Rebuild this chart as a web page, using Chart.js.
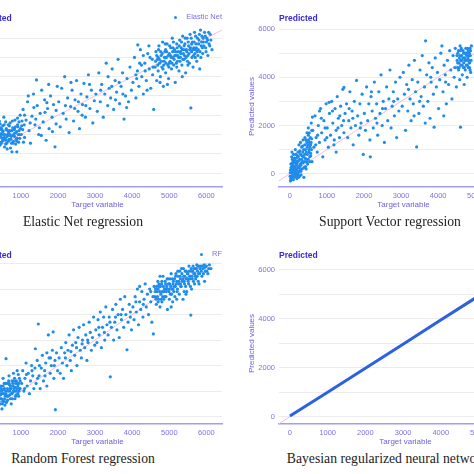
<!DOCTYPE html>
<html>
<head>
<meta charset="utf-8">
<script src="https://cdn.jsdelivr.net/npm/chart.js@4.4.1/dist/chart.umd.min.js"></script>
<style>
  html, body { margin: 0; padding: 0; overflow: hidden; background: #fff; }
  body { position: relative; width: 474px; height: 474px; }
  .panel { position: absolute; width: 295px; height: 212px; }
  .panel canvas { position: absolute; left: 0; top: 0; }
  .pred { position: absolute; left: 42px; top: 13px; font: bold 8.5px 'Liberation Sans', Arial, sans-serif; color: #3a2bd6; white-space: nowrap; }
  .leg { position: absolute; right: 4px; top: 12px; font: 7.5px 'Liberation Sans', Arial, sans-serif; color: #7b70e8; white-space: nowrap; }
  .leg i { display: inline-block; width: 3px; height: 3px; border-radius: 50%; background: #1f8ceb; margin-right: 9px; vertical-align: middle; }
  .cap { position: absolute; width: 300px; text-align: center; font: 13.7px 'Liberation Serif', 'Times New Roman', serif; color: #222; line-height: 16px; white-space: nowrap; }
</style>
</head>
<body>
<div class="panel" style="left:-69px;top:0">
  <canvas id="c1" width="295" height="212"></canvas>
  <div class="pred">Predicted</div>
  <div class="leg"><i></i>Elastic Net</div>
</div>
<div class="panel" style="left:237px;top:0">
  <canvas id="c2" width="295" height="212"></canvas>
  <div class="pred">Predicted</div>
</div>
<div class="panel" style="left:-69px;top:237px">
  <canvas id="c3" width="295" height="212"></canvas>
  <div class="pred">Predicted</div>
  <div class="leg"><i></i>RF</div>
</div>
<div class="panel" style="left:237px;top:237px">
  <canvas id="c4" width="295" height="212"></canvas>
  <div class="pred">Predicted</div>
</div>
<div class="cap" style="left:-67px;top:214px">Elastic Net regression</div>
<div class="cap" style="left:240px;top:214px">Support Vector regression</div>
<div class="cap" style="left:-67px;top:451px">Random Forest regression</div>
<div class="cap" style="left:240px;top:451px">Bayesian regularized neural networks</div>

<script>
// x ticks shared by all panels
const xTicks = [0, 1000, 2000, 3000, 4000, 5000, 6000];
const yTickLabels = [0, 2000, 4000, 6000];

// [target, predicted]
const elasticNetPoints = [
  [60,700],[90,1250],[130,450],[160,950],[190,1600],[220,600],[250,1100],[280,300],[310,850],[340,1400],[370,700],[400,1050],[420,1700],[440,450],[460,900],[480,1300],[500,650],[520,1150],[540,1900],[560,350],[580,800],[600,1250],[620,550],[640,1000],[660,1500],[680,750],[700,1200],[720,300],[740,900],[760,100],[780,1350],[800,650],[820,1050],[840,1750],[860,500],[880,1150],[890,100],[900,800],[920,1400],[940,600],[960,1000],[980,2000],[430,1250],[470,550],[510,1450],[550,850],[590,1650],[630,250],[670,1100],[710,1600],[750,550],[790,950],[830,1300],[870,750],[910,1850],[950,1200],[440,1550],[600,700],[700,950],[520,1000],
  [410,950],[430,600],[450,1350],[470,1050],[490,800],[510,1200],[530,700],[550,1500],[570,1000],[590,500],[610,1300],[630,900],[650,1200],[670,650],[690,1450],[710,1000],[730,750],[750,1200],[770,1700],[790,550],[810,1250],[830,900],[850,1400],[870,1100],[890,650],[910,1500],[930,1000],[950,1650],[970,800],[990,1300],[1010,1000],[1030,1700],[1050,1250],[1070,600],[1090,1500],
  [1020,1450],[1060,2300],[1100,850],[1140,1750],[1180,2700],[1220,1200],[1260,550],[1300,1950],[1340,3100],[1380,1500],[1420,3830],[1440,2500],[1480,1000],[1520,2100],[1560,3300],[1600,1650],[1640,2800],[1680,700],[1720,2350],[1760,1300],[1800,3000],[1840,1900],[1880,2550],[1920,360],[1950,1550],[1980,3500],[1100,2000],[1250,1600],[1350,2400],[1500,1350],[1650,2150],[1750,3600],[1850,1150],[1950,2250],[1200,3000],[1550,950],[1700,2650],[1400,1800],
  [2020,2700],[2060,1400],[2100,3400],[2140,2100],[2180,4000],[2220,1800],[2260,2900],[2300,1100],[2340,2450],[2380,3300],[2420,1700],[2460,2800],[2500,3800],[2540,2200],[2580,1300],[2620,3100],[2660,2550],[2700,3650],[2740,1900],[2780,2950],[2820,4100],[2860,2350],[2900,3300],[2940,1600],[2980,2750],[2200,2500],[2450,2350],[2650,2000],[2850,3600],[2550,2700],[2350,3700],[2750,2500],
  [3020,3100],[3060,2200],[3100,4200],[3140,2700],[3180,3600],[3220,1900],[3260,3100],[3300,4700],[3340,2500],[3380,3400],[3420,2900],[3460,4400],[3500,2300],[3540,3800],[3580,3200],[3620,4900],[3660,2600],[3700,3500],[3740,4200],[3780,1800],[3820,3000],[3860,3900],[3900,2700],[3940,4500],[3980,3300],[3150,3300],[3450,3500],[3650,3700],[3850,2400],[3350,4000],[3550,2800],[3750,3100],
  [4020,3700],[4060,5000],[4100,2900],[4140,4300],[4180,3500],[4220,5400],[4260,4000],[4300,3100],[4340,4700],[4380,3800],[4420,5200],[4460,4400],[4500,3400],[4540,4900],[4580,2300],[4100,4100],[4250,4600],[4400,3300],[4550,4100],[4150,5650],[4450,5600],[4560,4500],[4480,5000],[4350,4300],[4300,5100],[4200,4700],[4120,3900],
  [4620,4500],[4640,5300],[4660,3800],[4680,4900],[4700,4300],[4720,5600],[4740,4700],[4760,4000],[4780,5100],[4800,4500],[4820,5800],[4840,3500],[4860,4800],[4880,5300],[4900,4200],[4920,5000],[4940,5700],[4960,4600],[4980,3900],[5000,5200],[5020,4800],[5040,5500],[5060,4400],[5080,6000],[5100,5000],[5120,4600],[5140,5400],[5160,3700],[5180,5100],[5200,5700],[5220,4800],[5240,5300],[5260,4300],[5280,5900],[5300,5000],[5320,5500],[5340,4600],[5360,6100],[5380,5200],[5400,4900],[5420,5700],[5440,4200],[5460,5400],[5480,6000],[5500,5100],[5520,5600],[5540,4700],[5560,6200],[5580,2380],[5600,5300],[5620,5800],[5640,4500],[5660,5500],[5680,6300],[5700,5000],[5720,5700],[5740,4800],[5760,6000],[5780,5400],[5800,5900],[5820,4400],[5840,6420],[5860,5600],[5880,6100],[5900,5200],[5920,5800],[5950,6300],[5980,5500],[6010,6000],[6040,5100],[6070,5700],[6100,6200],[6150,5400],[4700,5000],[4850,4600],[5050,5000],[5150,5100],[5250,5000],[5350,5400],[5450,5000],[5550,5400],[5650,5100],[5750,5300],[4900,5400],[5000,4700],[5100,5500],[5200,4500],[5300,5300],[5400,5600],[5500,4600],[5600,5700],[5700,5400],[4750,3700],[4950,3600],[5350,4000],[5850,5000],[6000,5800],
  [4630,4800],[4660,5100],[4690,4600],[4710,5400],[4730,4900],[4770,5300],[4790,4800],[4810,5200],[4830,4400],[4870,5000],[4890,5700],[4910,4700],[4930,5300],[4970,5100],[4990,4500],[5010,5600],[5030,5100],[5070,4700],[5090,5300],[5110,5800],[5130,4900],[5170,5300],[5190,4700],[5210,5500],[5230,5100],[5270,5600],[5290,4800],[5310,5200],[5330,5800],[5370,4900],[5390,5400],[5410,5100],[5430,6000],[5470,5300],[5490,4800],[5510,5800],[5530,5200],[5570,5500],[5590,6000],[5610,5000],[5630,5400],[5670,5800],[5690,5200],[5710,6100],[5730,5500],[5770,5100],[5790,5700],[5810,6200],[5830,5300],[5870,5800],[5890,5500],[5910,6000],[5930,5600],[5970,6100],[5990,5300],[6030,5900],[6060,6300],[6090,5600],[6120,5900]
];

const svrPoints = [
  [10,-100],[20,150],[30,400],[40,-250],[50,50],[60,300],[70,600],[80,-50],[90,200],[100,800],[110,100],[120,-150],[130,450],[140,250],[150,1000],[160,0],[170,350],[180,650],[190,-200],[200,150],[210,500],[220,900],[230,50],[240,300],[250,1200],[260,-100],[270,600],[280,400],[290,800],[300,100],[320,1100],[340,500],[360,1400],[380,250],[400,800],[420,1000],[440,600],[460,1300],[480,400],[500,1600],[520,900],[540,700],[560,1200],[580,2100],[600,500],[20,-300],[50,700],[80,350],[110,-50],[140,550],[170,100],[200,-100],[230,700],[260,250],[290,1300],[320,600],[350,900],[380,-150],[410,1500],[440,200],[470,1100],[500,1900],[530,1300],[560,850],[590,1450],[45,250],[75,-150],[105,500],[135,50],[165,800],[195,400],[225,-50],[255,900],[285,150],[315,450],
  [15,50],[25,-200],[35,250],[55,-100],[65,450],[85,100],[95,-250],[115,300],[125,650],[145,-100],[155,200],[175,500],[185,0],[205,750],[215,250],[235,-150],[245,550],[265,100],[275,950],[295,350],[305,-50],[325,750],[335,200],[345,1150],[355,450],[365,700],[375,1000],[390,500],[405,1200],[415,650],[425,300],[435,1400],[445,900],[455,500],[465,1700],[475,800],[485,1200],[495,600],[505,1400],[515,1000],[525,1700],[535,500],[545,1100],[555,1500],[565,750],[575,1300],[585,1000],[595,1800],[60,900],[90,550],
  [620,1800],[650,1100],[680,2400],[710,1500],[740,900],[770,2000],[800,1300],[830,2700],[860,1700],[890,700],[920,2200],[950,1400],[980,2900],[1010,1900],[1040,1100],[1070,2500],[1100,1600],[1130,3000],[1160,2100],[1190,1200],[1220,2700],[1250,1800],[1280,3200],[1310,2300],[1340,1500],[1370,2800],[1400,2000],[1430,3500],[1460,1700],[1490,2500],[700,1200],[850,2300],[1000,1500],[1150,2600],[1300,1900],[1450,2200],[750,1600],[950,1900],[1200,1400],[1350,2400],[1060,2960],[1460,3580],[800,2600],[1250,900],[610,2350],
  [1530,2900],[1560,1500],[1590,2200],[1620,3400],[1650,1900],[1680,2600],[1710,1200],[1740,3000],[1770,2000],[1800,3870],[1830,2400],[1860,1600],[1890,2900],[1920,2100],[1950,3300],[1980,800],[2010,2500],[2040,1800],[2070,3600],[2100,2200],[2130,2900],[2160,1400],[2170,700],[2190,3200],[2220,2600],[2250,1900],[2280,3800],[2310,2300],[2340,2900],[2370,1600],[2400,3400],[2430,2500],[2460,4100],[2490,2000],[2520,3000],[2550,1300],[2580,2700],[2610,3600],[2640,2200],[2670,3100],[2700,4300],[2730,1900],[2760,2800],[2790,3400],[2820,2400],[2850,3800],[2880,1500],[2910,3100],[2940,2600],[2970,4000],[1600,2700],[1900,1900],[2200,3400],[2500,2700],[2800,3000],[1700,2300],[2350,2100],
  [3030,2800],[3060,4200],[3090,3300],[3120,1800],[3150,3700],[3180,2600],[3210,4500],[3240,3100],[3270,2200],[3300,3900],[3330,2900],[3360,4700],[3390,3400],[3420,1110],[3450,3800],[3480,2500],[3510,4300],[3540,3200],[3570,4900],[3600,2800],[3630,3600],[3660,5510],[3690,4100],[3720,3000],[3750,4600],[3780,2300],[3810,3800],[3840,4400],[3870,3300],[3890,1930],[3920,4800],[3950,3600],[3980,4200],[4010,2700],[4040,3900],[4070,5000],[4100,5300],[4130,3400],[4160,4500],[4190,4100],[4220,2900],[4250,4700],[4280,3700],[4310,5100],[4340,4300],[4370,3100],[4400,4900],[4430,4000],[4460,5200],[4490,3600],[3200,3500],[3500,3000],[3800,4000],[4200,3800],[4450,4400],[3350,2400],[3650,2100],[4150,2400],
  [4510,4700],[4530,5000],[4550,4300],[4570,4800],[4590,5300],[4600,1930],[4610,4500],[4630,4900],[4650,4100],[4670,5100],[4690,4600],[4710,4800],[4730,4300],[4750,5000],[4770,4700],[4790,5200],[4810,4400],[4830,4900],[4850,4600],[4870,5100],[4520,4400],[4560,4600],[4600,5100],[4640,4700],[4680,4400],[4720,5000],[4760,4500],[4800,4800],[4840,5000],[4860,4300],[4580,3900],[4700,3700],[4780,4000],[5000,4800],[5200,5000],[5400,4700],[5600,5100],[5800,4900],[6000,5200],[5100,4500],[5300,4900],[5500,5300],[5700,4600],[5900,5000],[6100,4800],
  [4505,4900],[4525,4600],[4545,5100],[4565,4400],[4585,4900],[4605,4700],[4625,5200],[4645,4500],[4665,4800],[4685,5000],[4705,4400],[4725,4700],[4745,5200],[4765,4900],[4785,4500],[4805,5100],[4825,4700],[4845,4400],[4865,4900],[4885,4700],[4895,5300],[4875,4200],[4855,5200],[4835,4600],[4815,5000]
];

const randomForestPoints = [
  [50,600],[100,900],[150,400],[200,1100],[250,700],[300,500],[350,1300],[400,800],[420,1000],[440,500],[460,1200],[480,700],[500,900],[520,1500],[540,600],[560,1100],[580,800],[600,2270],[620,1300],[640,650],[660,1000],[680,1600],[700,850],[720,1200],[740,500],[760,1400],[780,950],[800,1700],[820,1100],[840,700],[860,1300],[880,1000],[900,1800],[920,1200],[940,800],[960,1500],[980,1100],[430,700],[470,1100],[510,600],[550,1300],[590,1000],[630,800],[670,1400],[710,1100],[750,900],[790,1200],[830,1500],[870,850],[910,1300],[950,1000],[450,850],[530,1050],[610,550],[690,1250],[770,700],[850,1150],[930,1650],[490,300],[570,450],
  [410,600],[420,1200],[440,900],[460,700],[480,1000],[500,500],[520,1200],[540,900],[560,700],[580,1300],[600,900],[620,600],[640,1100],[660,800],[680,1300],[700,1000],[720,700],[740,1100],[760,900],[780,1300],[800,1000],[820,1400],[840,1000],[860,800],[880,1400],[900,1100],[920,900],[940,1300],[960,1100],[980,1400],
  [1020,1300],[1050,1800],[1080,1000],[1110,1500],[1140,2100],[1170,1200],[1200,1700],[1230,900],[1260,1400],[1290,2000],[1320,1600],[1350,1100],[1380,1900],[1390,2660],[1410,1300],[1440,2200],[1470,3630],[1490,1600],[1520,1100],[1550,1900],[1580,2400],[1610,1400],[1640,1800],[1670,2100],[1700,1200],[1740,3200],[1760,2300],[1790,1700],[1820,2000],[1850,2600],[1870,3320],[1890,1500],[1920,2200],[1930,270],[1960,2500],[1990,1800],[1100,1100],[1300,1800],[1500,2000],[1700,2500],[1900,2000],[1150,1650],[1450,1500],[1650,1600],[1800,2300],
  [2030,2300],[2060,1700],[2090,2700],[2120,2100],[2150,1500],[2180,2500],[2210,2900],[2240,2000],[2270,2600],[2300,3200],[2330,2200],[2360,1800],[2390,2800],[2420,3400],[2450,2400],[2480,2900],[2510,2000],[2540,3100],[2570,3500],[2600,2600],[2630,2300],[2660,3000],[2690,3600],[2720,2700],[2750,3200],[2780,2200],[2810,2900],[2840,3700],[2870,3300],[2900,2600],[2930,3100],[2960,3900],[2990,2800],[2200,2300],[2500,2700],[2800,3000],[2350,2550],[2650,2850],
  [3020,3400],[3050,2900],[3080,3800],[3110,3200],[3140,4100],[3170,2700],[3200,3500],[3230,3900],[3260,3000],[3290,4300],[3320,3600],[3350,3200],[3380,3900],[3410,1560],[3440,3500],[3470,4200],[3500,3000],[3530,3700],[3560,4400],[3590,3400],[3620,4000],[3650,3100],[3680,4600],[3710,3800],[3740,4200],[3770,3500],[3800,4700],[3830,4000],[3860,2620],[3890,3700],[3920,4400],[3950,4100],[3980,3400],[3100,3500],[3400,3700],[3700,4000],[3950,3900],[3250,3300],[3550,3900],
  [4020,4300],[4050,3800],[4080,4700],[4110,4100],[4140,5000],[4170,3600],[4200,4500],[4230,4200],[4260,4900],[4290,3900],[4320,4600],[4350,5200],[4380,4300],[4410,4800],[4440,4000],[4470,5000],[4500,4500],[4530,3700],[4560,4700],[4570,3240],[4590,5100],[4100,4500],[4300,4400],[4500,4900],[4200,5100],
  [4610,4700],[4630,5000],[4650,4400],[4670,4900],[4690,5300],[4710,4600],[4730,5100],[4750,4300],[4770,4800],[4790,5200],[4810,4900],[4830,5500],[4850,4600],[4870,5000],[4890,5300],[4910,4700],[4930,5100],[4950,4200],[4970,5400],[4990,4900],[5010,5200],[5030,4800],[5050,5600],[5070,5000],[5090,4500],[5110,5300],[5130,5100],[5150,4700],[5170,5500],[5190,5200],[5210,4900],[5230,5700],[5250,5300],[5270,4800],[5290,5500],[5310,5100],[5330,5800],[5350,5300],[5370,4600],[5390,5500],[5410,5200],[5430,5700],[5450,5400],[5470,4900],[5490,5600],[5510,5300],[5530,5900],[5550,5500],[5570,5100],[5580,3980],[5600,5700],[5620,5400],[5640,5900],[5660,5600],[5680,5200],[5700,5800],[5720,5500],[5740,5950],[5760,5700],[5780,5300],[5800,5900],[5820,5600],[5850,5900],[5880,5500],[5910,5800],[5940,5950],[5970,5700],[6000,5900],[6040,5600],[6080,5950],[6120,5800],[4700,5000],[4900,5000],[5100,5000],[5300,5200],[5500,5400],[5700,5500],[4800,4500],[5000,4600],[5200,4600],[5400,4900],[5600,5000],[4750,5500],[5050,4300],[5450,4800],[5800,5200],[5950,5300],
  [4620,4900],[4640,4600],[4660,5100],[4680,4700],[4700,4500],[4720,5200],[4740,4900],[4760,5100],[4780,4600],[4800,5300],[4820,4700],[4840,5100],[4860,4900],[4880,4700],[4900,5200],[4920,4900],[4940,5400],[4960,5000],[4980,5200],[5000,5000],[5020,5400],[5040,5100],[5060,4800],[5080,5400],[5100,5200],[5120,4900],[5140,5400],[5160,5100],[5180,5600],[5200,5300],[5220,5000],[5240,5500],[5260,5200],[5280,5700],[5300,5400],[5320,5100],[5340,5600],[5360,5400],[5380,5800],[5400,5300],[5420,5500],[5440,5100],[5460,5700],[5480,5400],[5500,5600],[5520,5200],[5540,5700],[5560,5400],[5590,5800],[5610,5500],[5630,5700],[5650,5300],[5670,5800],[5690,5600],[5710,5400],[5730,5800],[5750,5500],[5770,5900],[5790,5600],[5830,5800],[5860,5700],[5890,5900],[5920,5600],[5960,5850],[6010,5700],[6060,5800]
];

// Bayesian regularized NN: predictions fall on one straight line
const brnnTarget = [0, 1000, 2000, 3000, 4000, 5000, 6200];
const brnnPredicted = [30, 1000, 1980, 2960, 3950, 4930, 6100];

const diagonal = [-2000, 8000];

Chart.defaults.font.family = "'Liberation Sans', Arial, sans-serif";

function makeChart(id, datasets, yMin, yMax) {
  new Chart(document.getElementById(id), {
    type: 'scatter',
    data: { datasets: datasets },
    options: {
      responsive: false,
      animation: false,
      events: [],
      layout: { padding: { top: 26, left: 0, right: 0, bottom: 0 } },
      plugins: { legend: { display: false }, tooltip: { enabled: false } },
      scales: {
        x: {
          type: 'linear', min: -290, max: 6420,
          grid: { display: false, drawTicks: false },
          border: { display: true, color: '#a39cf0', width: 1.5 },
          ticks: {
            padding: 4, autoSkip: false, maxRotation: 0,
            color: '#7d72e6', font: { size: 7.5 },
            callback: v => String(v)
          },
          afterBuildTicks: s => { s.ticks = xTicks.map(v => ({ value: v })); },
          afterFit: s => { s.height = 25; },
          title: { display: true, text: 'Target variable', color: '#6c60e4', font: { size: 8 }, padding: { top: 0, bottom: 2 } }
        },
        y: {
          type: 'linear', min: yMin, max: yMax,
          grid: { color: '#ececec', lineWidth: 1, drawTicks: false },
          border: { display: false },
          ticks: {
            padding: 4, autoSkip: false,
            color: '#7d72e6', font: { size: 7.5 },
            callback: v => yTickLabels.includes(v) ? String(v) : ''
          },
          afterBuildTicks: s => {
            const t = [];
            for (let v = Math.ceil(yMin / 1000) * 1000; v <= yMax; v += 1000) t.push({ value: v });
            s.ticks = t;
          },
          afterFit: s => { s.width = 42; },
          title: { display: true, text: 'Predicted values', color: '#6c60e4', font: { size: 8 }, padding: { top: 10, bottom: 0 } }
        }
      }
    }
  });
}

function diagSet() {
  return {
    data: diagonal.map(v => ({ x: v, y: v })),
    showLine: true, borderColor: '#f3bddc', borderWidth: 1, pointRadius: 0, order: 2
  };
}

function pointSet(points) {
  return {
    data: points.map(p => ({ x: p[0], y: p[1] })),
    backgroundColor: '#1f8ceb', borderWidth: 0, pointRadius: 1.6, order: 1
  };
}

makeChart('c1', [pointSet(elasticNetPoints), diagSet()], -1725, 6630);
makeChart('c2', [pointSet(svrPoints), diagSet()], -550, 6125);
makeChart('c3', [pointSet(randomForestPoints), diagSet()], -290, 6020);
makeChart('c4', [{
  data: brnnTarget.map((t, i) => ({ x: t, y: brnnPredicted[i] })),
  showLine: true, borderColor: '#2a62e0', borderWidth: 3, pointRadius: 0, order: 1
}, diagSet()], -300, 6285);
</script>
</body>
</html>
